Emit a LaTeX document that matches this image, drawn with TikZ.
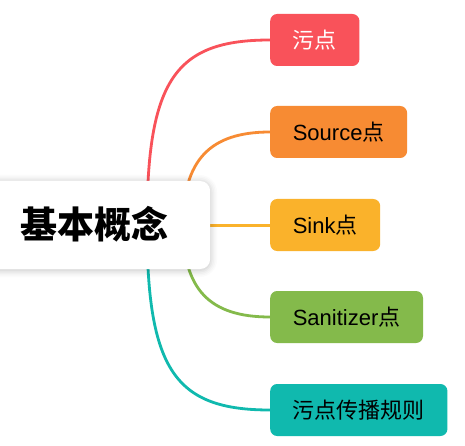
\documentclass[tikz,border=0pt]{standalone}
\usepackage{fontspec}
\setmainfont{Liberation Sans}
\newfontfamily\cjk{Noto Sans CJK SC}
\definecolor{cred}{HTML}{F9525A}
\definecolor{corange}{HTML}{F78B33}
\definecolor{cyellow}{HTML}{FAB22B}
\definecolor{cgreen}{HTML}{84BA4B}
\definecolor{cteal}{HTML}{10B9AE}
\begin{document}
\begin{tikzpicture}[x=1pt,y=-1pt,
  link/.style={line width=2.8pt},
  leaf/.style={rectangle, rounded corners=7pt, anchor=west, minimum height=52pt,
    inner xsep=22.6pt, inner ysep=0pt, font=\fontsize{22pt}{26pt}\selectfont,
    text height=18pt, text depth=1pt},
  central/.style={rectangle, rounded corners=10pt, fill=white, anchor=west,
    minimum width=230pt, minimum height=88pt, inner sep=0pt}
]
\useasboundingbox (0,0) rectangle (465,446);
\fill[white] (0,0) rectangle (465,446);

% start points (hidden behind the central box)
\coordinate (s1) at (147,225);
\coordinate (s2) at (183,225);

% leaves
\node[leaf, fill=cred, text=white] (n1) at (270,40) {\cjk 污点};
\node[leaf, fill=corange] (n2) at (270,132) {Source{\cjk 点}};
\node[leaf, fill=cyellow] (n3) at (270,225) {Sink{\cjk 点}};
\node[leaf, fill=cgreen] (n4) at (270,317) {Sanitizer{\cjk 点}};
\node[leaf, fill=cteal] (n5) at (270,410) {\cjk 污点传播规则};

% connectors
\draw[link, cred] (s1) .. controls (147,80) and (175,40) .. (n1.west);
\draw[link, corange] (s2) .. controls (183,160) and (210,132) .. (n2.west);
\draw[link, cyellow, line width=3pt] (s2) -- (n3.west);
\draw[link, cgreen] (s2) .. controls (183,290) and (210,317) .. (n4.west);
\draw[link, cteal] (s1) .. controls (147,370) and (175,410) .. (n5.west);

% soft shadow of central box
\foreach \d/\o in {7/0.015,5.5/0.02,4/0.025,2.5/0.03,1/0.035}{
  \fill[black, opacity=\o, rounded corners=10pt+\d pt] (-20-\d,181-\d+1) rectangle (210+\d,269+\d+1);
}
\node[central] (c) at (-20,225) {};
\node[anchor=west, font=\cjk\bfseries\fontsize{37pt}{40pt}\selectfont, inner sep=0pt,
  text height=30pt, text depth=4pt] (ct) at (20,225) {基本概念};
\end{tikzpicture}
\end{document}
